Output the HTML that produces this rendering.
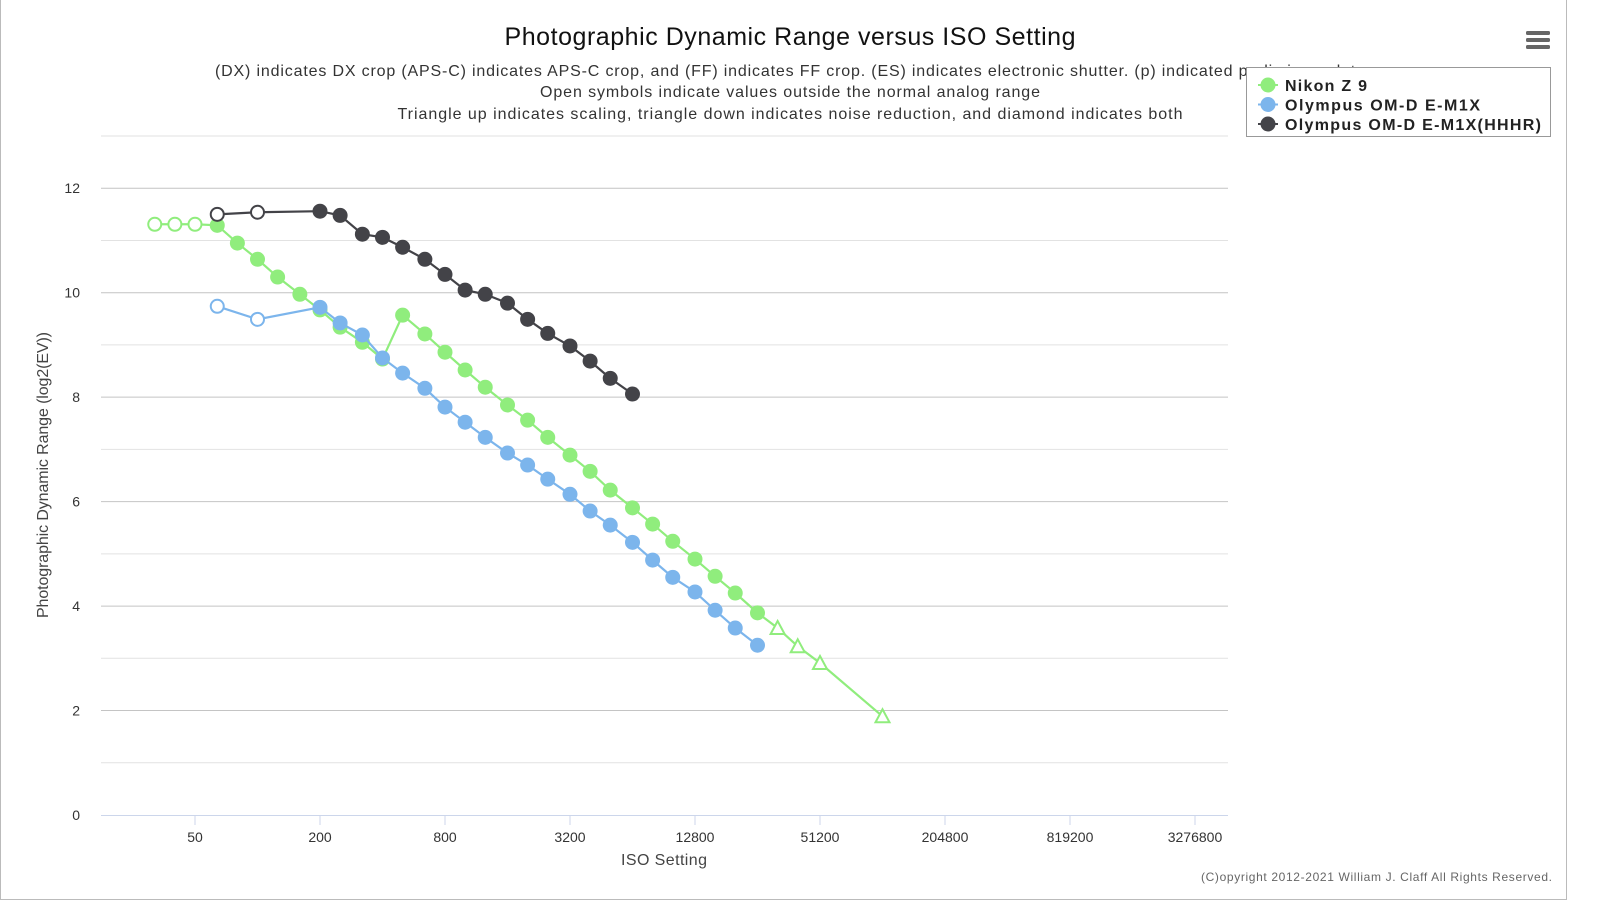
<!DOCTYPE html>
<html><head><meta charset="utf-8"><style>
body{margin:0;background:#fff;font-family:"Liberation Sans","DejaVu Sans",sans-serif;}
#wrap{position:absolute;left:0;top:0;width:1600px;height:920px;overflow:hidden;}
#frame{position:absolute;left:0;top:-2px;width:1565px;height:900px;border:1px solid #bbb;}
</style></head><body>
<div id="wrap">
<div id="frame"></div>
<svg id="chart" width="1600" height="920" style="position:absolute;left:0;top:0"></svg>
</div>
<script>
const isoTicks=[50,200,800,3200,12800,51200,204800,819200,3276800];
const yTicks=[0,2,4,6,8,10,12];
const nikonIso=[32,40,50,64,80,100,125,160,200,250,320,400,500,640,800,1000,1250,1600,2000,2500,3200,4000,5000,6400,8000,10000,12800,16000,20000,25600,32000,40000,51200,102400];
const nikonDR=[11.31,11.31,11.31,11.29,10.95,10.64,10.30,9.97,9.67,9.34,9.05,8.73,9.57,9.21,8.86,8.52,8.19,7.85,7.56,7.23,6.89,6.58,6.22,5.88,5.57,5.24,4.90,4.57,4.25,3.87,3.58,3.23,2.91,1.89];
const nikonSym=["o","o","o","c","c","c","c","c","c","c","c","c","c","c","c","c","c","c","c","c","c","c","c","c","c","c","c","c","c","c","t","t","t","t"];
const olyIso=[64,100,200,250,320,400,500,640,800,1000,1250,1600,2000,2500,3200,4000,5000,6400,8000,10000,12800,16000,20000,25600];
const olyDR=[9.74,9.49,9.72,9.42,9.19,8.75,8.46,8.17,7.81,7.52,7.23,6.93,6.70,6.43,6.14,5.82,5.55,5.22,4.88,4.55,4.27,3.92,3.58,3.25];
const olySym=["o","o","c","c","c","c","c","c","c","c","c","c","c","c","c","c","c","c","c","c","c","c","c","c"];
const hhIso=[64,100,200,250,320,400,500,640,800,1000,1250,1600,2000,2500,3200,4000,5000,6400];
const hhDR=[11.50,11.54,11.56,11.48,11.12,11.06,10.87,10.64,10.35,10.05,9.97,9.80,9.49,9.22,8.98,8.69,8.36,8.06];
const hhSym=["o","o","c","c","c","c","c","c","c","c","c","c","c","c","c","c","c","c"];

const NS="http://www.w3.org/2000/svg";
const svg=document.getElementById('chart');
const L=101,R=1228,T=136,B=815;
function xS(iso){return 195+62.5*Math.log2(iso/50);}
function yS(v){return B-(B-T)*v/13;}
function mk(tag,attrs,parent){const e=document.createElementNS(NS,tag);for(const k in attrs)e.setAttribute(k,attrs[k]);(parent||svg).appendChild(e);return e;}
function txt(x,y,s,size,anchor,fill,weight,len){const t=mk('text',{x:x,y:y,'font-size':size,'text-anchor':anchor||'middle',fill:fill||'#333','font-family':'Liberation Sans, DejaVu Sans, sans-serif'});if(weight)t.setAttribute('font-weight',weight);if(len){t.setAttribute('textLength',len);t.setAttribute('lengthAdjust','spacing');}t.textContent=s;return t;}

for(let v=1;v<=13;v++){
  const g=mk('line',{x1:L,x2:R,y1:yS(v),y2:yS(v),stroke:v%2===0?'#c4c4c4':'#e2e2e2','stroke-width':1});
  
  
}
const xa=mk('line',{x1:L,x2:R,y1:B+0.5,y2:B+0.5,stroke:'#ccd6eb','stroke-width':1});


yTicks.forEach(v=>{const t=txt(80,yS(v)+5,String(v),14,'end','#333');
  
  });
isoTicks.forEach(v=>{const x=xS(v);
  const tk=mk('line',{x1:x,x2:x,y1:B,y2:B+10,stroke:'#ccd6eb'});
  
  
  const t=txt(x,B+27,String(v),14,'middle','#333');
  
  });

let t=txt(790,45,'Photographic Dynamic Range versus ISO Setting',25,'middle','#111',null,571);


t=txt(790,76,'(DX) indicates DX crop (APS-C) indicates APS-C crop, and (FF) indicates FF crop. (ES) indicates electronic shutter. (p) indicated preliminary data',16,'middle','#333',null,1150);


t=txt(790,97,'Open symbols indicate values outside the normal analog range',16,'middle','#333',null,500);


t=txt(790,119,'Triangle up indicates scaling, triangle down indicates noise reduction, and diamond indicates both',16,'middle','#333',null,785);


t=txt(664,865,'ISO Setting',16,'middle','#444',null,86);


t=mk('text',{x:0,y:0,'font-size':16,'text-anchor':'middle',fill:'#444',transform:'translate(48,475) rotate(-90)','font-family':'Liberation Sans, DejaVu Sans, sans-serif',textLength:286,lengthAdjust:'spacing'});
t.textContent='Photographic Dynamic Range (log2(EV))';


t=txt(1552,881,'(C)opyright 2012-2021 William J. Claff All Rights Reserved.',12,'end','#666',null,351);



function series(isos,vals,syms,color,name){
  const g=mk('g',{});
  
  
  const pts=isos.map((i,k)=>[xS(i),yS(vals[k])]);
  mk('polyline',{points:pts.map(p=>p.join(',')).join(' '),fill:'none',stroke:color,'stroke-width':2.2},g);
  pts.forEach((p,k)=>{
    let m;
    if(syms[k]==='t'){
      const [x,y]=p;
      m=mk('polygon',{points:`${x},${y-7} ${x+7},${y+6} ${x-7},${y+6}`,fill:'#fff',stroke:color,'stroke-width':2},g);
    }else if(syms[k]==='o'){
      m=mk('circle',{cx:p[0],cy:p[1],r:6.5,fill:'#fff',stroke:color,'stroke-width':2},g);
    }else{
      m=mk('circle',{cx:p[0],cy:p[1],r:7.5,fill:color},g);
    }
    
    
  });
}
series(nikonIso,nikonDR,nikonSym,'#90ed7d','series-nikon-z9');
series(olyIso,olyDR,olySym,'#7cb5ec','series-olympus-em1x');
series(hhIso,hhDR,hhSym,'#434348','series-olympus-em1x-hhhr');

const lg=mk('g',{});


const lr=mk('rect',{x:1246.5,y:67.5,width:304,height:69,fill:'#fff',stroke:'#999','stroke-width':1},lg);


const legNames=['Nikon Z 9','Olympus OM-D E-M1X','Olympus OM-D E-M1X(HHHR)'];
const legLens=[82,195,256];
const legCols=['#90ed7d','#7cb5ec','#434348'];
legNames.forEach((n,i)=>{
  const y=85+i*19.5;
  const e=mk('g',{},lg);
  
  
  mk('line',{x1:1258,x2:1278,y1:y,y2:y,stroke:legCols[i],'stroke-width':2},e);
  mk('circle',{cx:1268,cy:y,r:7.5,fill:legCols[i]},e);
  const tt=txt(1285,y+6,n,16,'start','#222','bold',legLens[i]);
  e.appendChild(tt);
});

const mg=mk('g',{});


[33,40,47].forEach(y=>mk('rect',{x:1526,y:y-2,width:24,height:4,rx:1.5,fill:'#666'},mg));
</script>
</body></html>
